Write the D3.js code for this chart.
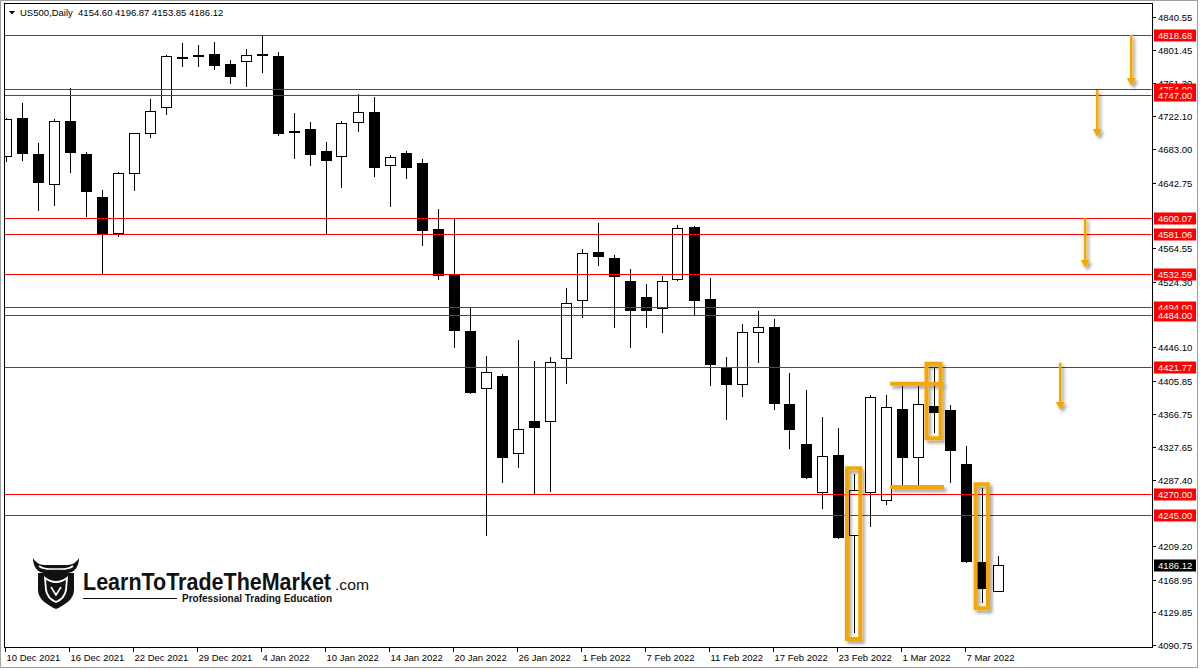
<!DOCTYPE html>
<html><head><meta charset="utf-8">
<script src="https://cdn.jsdelivr.net/npm/d3@7"></script>
<style>
html,body{margin:0;padding:0;background:#fff;}
svg{display:block;}
text{font-family:"Liberation Sans",Arial,sans-serif;}
</style></head><body>
<svg id="chart" width="1200" height="670"></svg>
<script>
// ---- data ----
const symbolTitle = "US500,Daily";
const opens  = [4673.76,4719.61,4676.99,4640.33,4716.39,4676.99,4625.65,4581.48,4652.75,4700.51,4731.55,4793.15,4793.99,4796.38,4784.44,4786.47,4796.38,4793.99,4704.21,4706.48,4680.21,4673.05,4713.64,4727.13,4663.02,4677.82,4665.88,4587.45,4532.53,4465.67,4396.78,4411.94,4318.46,4358.22,4357.38,4432.60,4501.84,4559.99,4552.82,4525.36,4506.26,4491.58,4526.20,4589.83,4503.87,4421.49,4400.84,4462.92,4470.44,4378.51,4330.76,4271.90,4317.63,4220.56,4271.90,4263.07,4372.55,4313.69,4376.13,4371.35,4306.88,4189.88,4154.60];
const highs  = [4719.97,4737.88,4690.12,4718.77,4755.43,4679.37,4634.01,4655.14,4702.50,4742.65,4795.54,4809.51,4807.48,4810.34,4789.21,4802.35,4817.27,4798.41,4725.94,4715.19,4690.96,4716.39,4748.62,4744.68,4675.44,4680.57,4670.66,4611.08,4600.22,4493.49,4435.82,4414.33,4454.92,4429.85,4434.63,4517.36,4563.57,4594.97,4556.05,4539.69,4521.78,4531.33,4592.22,4590.67,4529.30,4434.63,4474.03,4489.55,4480.00,4415.53,4395.23,4362.99,4349.86,4295.30,4389.26,4389.26,4400.00,4400.00,4421.49,4377.32,4328.37,4278.59,4196.87];
const lows   = [4667.79,4668.99,4609.29,4615.26,4654.66,4602.13,4533.72,4578.25,4633.17,4696.45,4723.91,4781.21,4781.21,4777.27,4760.92,4757.34,4774.05,4698.84,4671.38,4662.66,4581.48,4636.75,4703.61,4649.89,4614.07,4647.50,4567.51,4526.92,4445.73,4390.81,4221.28,4284.56,4302.46,4271.06,4273.81,4402.75,4481.55,4543.63,4469.61,4445.73,4469.61,4463.64,4525.00,4485.13,4400.36,4359.77,4387.23,4427.82,4371.71,4325.15,4288.97,4253.16,4216.98,4105.47,4232.03,4258.29,4281.81,4281.81,4344.25,4284.56,4188.33,4141.29,4153.85];
const closes = [4718.41,4677.34,4642.72,4716.39,4678.54,4631.98,4581.48,4653.95,4701.70,4728.32,4793.99,4791.24,4795.20,4782.41,4769.27,4795.18,4793.63,4701.22,4703.01,4676.15,4668.99,4713.64,4727.13,4660.63,4673.05,4660.63,4585.42,4531.69,4466.03,4392.01,4416.36,4314.40,4348.31,4350.22,4428.66,4498.74,4558.43,4554.37,4530.50,4489.90,4489.90,4525.00,4588.28,4501.84,4425.43,4400.84,4464.12,4470.09,4378.87,4347.83,4290.53,4316.43,4218.89,4275.48,4386.51,4374.57,4314.40,4378.16,4368.13,4322.76,4190.24,4157.29,4186.12];

const dateTickIndex = [0,4,8,12,16,20,24,28,32,36,40,44,48,52,56,60];
const dateTickLabels = ["10 Dec 2021","16 Dec 2021","22 Dec 2021","29 Dec 2021","4 Jan 2022","10 Jan 2022","14 Jan 2022","20 Jan 2022","26 Jan 2022","1 Feb 2022","7 Feb 2022","11 Feb 2022","17 Feb 2022","23 Feb 2022","1 Mar 2022","7 Mar 2022"];
const priceTicks = [4840.55,4801.45,4761.30,4722.10,4683.00,4642.75,4564.55,4524.30,4446.10,4405.85,4366.75,4327.65,4287.40,4209.20,4168.95,4129.85,4090.75];
const priceTickLabels = ["4840.55","4801.45","4761.30","4722.10","4683.00","4642.75","4564.55","4524.30","4446.10","4405.85","4366.75","4327.65","4287.40","4209.20","4168.95","4129.85","4090.75"];

const levels = [4818.68,4754.00,4747.00,4600.07,4581.06,4532.59,4494.00,4484.00,4421.77,4270.00,4245.00];
const lastPrice = 4186.12;

// orange annotations (bar index / price units)
const boxLeft   = [52.59, 57.56, 60.63];
const boxRight  = [53.42, 58.44, 61.40];
const boxTop    = [4301.75, 4426.63, 4282.65];
const boxBottom = [4097.95, 4337.56, 4134.60];
const hLineStart = [55.29, 55.29];
const hLineEnd   = [58.65, 58.65];
const hLinePrice = [4402.75, 4279.42];
const arrowX    = [70.36, 68.23, 67.48, 65.92];
const arrowFrom = [4819.06, 4753.40, 4600.58, 4427.82];
const arrowTo   = [4758.17, 4697.28, 4540.88, 4371.35];

// ---- layout ----
const W = 1200, H = 670;
const plot = {left: 4, top: 4, right: 1152, bottom: 648};
const svg = d3.select("#chart");
const x = d3.scaleLinear().domain([0, 62]).range([5.5, 5.5 + 16 * 62]);
const y = d3.scaleLinear().domain([4090.75, 4840.55]).range([645, 17]);
const ORANGE = "#F7A600";

const defs = svg.append("defs");
defs.append("clipPath").attr("id", "plotclip").append("rect")
  .attr("x", plot.left + 0.5).attr("y", plot.top + 0.5)
  .attr("width", plot.right - plot.left - 1).attr("height", plot.bottom - plot.top - 1);
const f = defs.append("filter").attr("id", "shadow").attr("x", "-50%").attr("y", "-50%").attr("width", "200%").attr("height", "200%");
f.append("feDropShadow").attr("dx", 2.5).attr("dy", 3).attr("stdDeviation", 1.6)
  .attr("flood-color", "#000").attr("flood-opacity", 0.35);

// window background & frame
svg.append("rect").attr("x", 0).attr("y", 0).attr("width", W).attr("height", H).attr("fill", "#fff");
svg.append("rect").attr("x", 0.5).attr("y", 0.5).attr("width", 1197).attr("height", 667)
  .attr("fill", "none").attr("stroke", "#a0a0a0");

const g = svg.append("g").attr("clip-path", "url(#plotclip)");

// candles
const data = opens.map((o, i) => ({i, o, h: highs[i], l: lows[i], c: closes[i]}));
const cg = g.append("g");
data.forEach(d => {
  const cx = Math.round(x(d.i)) + 0.5;
  const yo = Math.round(y(d.o)), yc = Math.round(y(d.c));
  const yh = Math.round(y(d.h)), yl = Math.round(y(d.l));
  const top = Math.min(yo, yc), bot = Math.max(yo, yc);
  const bull = d.c > d.o;
  cg.append("line").attr("x1", cx).attr("x2", cx).attr("y1", yh).attr("y2", top)
    .attr("stroke", "#000").attr("stroke-width", 1);
  cg.append("line").attr("x1", cx).attr("x2", cx).attr("y1", bot).attr("y2", yl)
    .attr("stroke", "#000").attr("stroke-width", 1);
  if (bot - top < 2) {
    cg.append("rect").attr("x", cx - 5.5).attr("y", top).attr("width", 11).attr("height", Math.max(2, bot - top))
      .attr("fill", "#000");
  } else if (bull) {
    cg.append("rect").attr("x", cx - 5).attr("y", top + 0.5).attr("width", 10).attr("height", bot - top - 1)
      .attr("fill", "#fff").attr("stroke", "#000").attr("stroke-width", 1);
  } else {
    cg.append("rect").attr("x", cx - 5.5).attr("y", top).attr("width", 11).attr("height", bot - top)
      .attr("fill", "#000");
  }
});

// horizontal levels
const ly = p => Math.floor(y(p)) + 0.5;
g.selectAll("line.level").data(levels).enter().append("line").attr("class", "level")
  .attr("x1", plot.left).attr("x2", plot.right)
  .attr("y1", d => ly(d)).attr("y2", d => ly(d))
  .attr("stroke", "#FF0000").attr("stroke-width", 1);

// orange annotations
const og = g.append("g").attr("filter", "url(#shadow)");
boxLeft.forEach((b, k) => {
  og.append("rect")
    .attr("x", x(b)).attr("y", y(boxTop[k]))
    .attr("width", x(boxRight[k]) - x(b)).attr("height", y(boxBottom[k]) - y(boxTop[k]))
    .attr("fill", "none").attr("stroke", ORANGE).attr("stroke-width", 4);
});
hLinePrice.forEach((p, k) => {
  og.append("line").attr("x1", x(hLineStart[k])).attr("x2", x(hLineEnd[k]))
    .attr("y1", y(p)).attr("y2", y(p)).attr("stroke", ORANGE).attr("stroke-width", 4);
});
arrowX.forEach((a, k) => {
  const ax = x(a), y0 = y(arrowFrom[k]), y1 = y(arrowTo[k]);
  og.append("line").attr("x1", ax).attr("x2", ax).attr("y1", y0).attr("y2", y1 - 6)
    .attr("stroke", ORANGE).attr("stroke-width", 2.6);
  og.append("path").attr("d", `M${ax - 4.5},${y1 - 8} L${ax + 4.5},${y1 - 8} L${ax},${y1} Z`)
    .attr("fill", ORANGE);
});

// plot frame
svg.append("rect").attr("x", plot.left + 0.5).attr("y", plot.top - 0.5)
  .attr("width", plot.right - plot.left).attr("height", plot.bottom - plot.top)
  .attr("fill", "none").attr("stroke", "#000").attr("stroke-width", 1);

// price axis ticks
const pa = svg.append("g");
priceTicks.forEach((p, k) => {
  const yy = Math.round(y(p)) + 0.5;
  pa.append("line").attr("x1", plot.right).attr("x2", plot.right + 4).attr("y1", yy).attr("y2", yy)
    .attr("stroke", "#000");
  pa.append("text").attr("x", plot.right + 6).attr("y", yy).attr("dy", "0.35em")
    .attr("font-size", 9.5).attr("fill", "#000").text(priceTickLabels[k]);
});
// level labels
levels.forEach(p => {
  const yy = ly(p);
  pa.append("rect").attr("x", plot.right + 2).attr("y", yy - 6).attr("width", 42).attr("height", 12)
    .attr("fill", "#FF0000");
  pa.append("text").attr("x", plot.right + 6).attr("y", yy).attr("dy", "0.35em")
    .attr("font-size", 9.5).attr("fill", "#fff").text(p.toFixed(2));
});
{
  const yy = Math.round(y(lastPrice)) + 0.5;
  pa.append("rect").attr("x", plot.right + 2).attr("y", yy - 6).attr("width", 42).attr("height", 12).attr("fill", "#000");
  pa.append("text").attr("x", plot.right + 6).attr("y", yy).attr("dy", "0.35em")
    .attr("font-size", 9.5).attr("fill", "#fff").text(lastPrice.toFixed(2));
}

// date axis
const da = svg.append("g");
dateTickIndex.forEach((idx, k) => {
  const xx = Math.round(x(idx)) - 0.5;
  da.append("line").attr("x1", xx).attr("x2", xx).attr("y1", plot.bottom).attr("y2", plot.bottom + 4)
    .attr("stroke", "#000");
  da.append("text").attr("x", xx + 1).attr("y", plot.bottom + 13)
    .attr("font-size", 9.5).attr("fill", "#000").text(dateTickLabels[k]);
});

// title
svg.append("path").attr("d", "M9,11 L15,11 L12,14.5 Z").attr("fill", "#000");
svg.append("text").attr("x", 20).attr("y", 16).attr("font-size", 9.5).attr("fill", "#000")
  .attr("xml:space", "preserve")
  .text(symbolTitle + "  " + [opens[62], highs[62], lows[62], closes[62]].map(v => v.toFixed(2)).join(" "));

// logo
const lg = svg.append("g").attr("transform", "translate(33,557)");
lg.append("path").attr("d", "M0,1 C5,9 11,8 16,8 L30,8 C35,8 41,9 46,1 C46,10 41,16 34,16 L12,16 C5,16 0,10 0,1 Z").attr("fill", "#111");
lg.append("path").attr("d", "M6,9 C10,12 14,12 17,12 L29,12 C32,12 36,12 40,9").attr("fill", "none").attr("stroke", "#fff").attr("stroke-width", 1.6);
lg.append("path").attr("d", "M5,16 L41,16 L41,33 C41,42 32,48 23,52 C14,48 5,42 5,33 Z").attr("fill", "#111");
lg.append("path").attr("d", "M12,21 C16,24 19,25 23,25 C27,25 30,24 34,21 L33,33 C32,39 28,43 23,45 C18,43 14,39 13,33 Z")
  .attr("fill", "none").attr("stroke", "#fff").attr("stroke-width", 1.8);
lg.append("path").attr("d", "M18,30 L23,38 L28,30").attr("fill", "none").attr("stroke", "#fff").attr("stroke-width", 1.6);

svg.append("text").attr("x", 83).attr("y", 589.5).attr("font-family", "'Open Sans', Lato, sans-serif")
  .attr("font-weight", 700).attr("font-size", 23).attr("fill", "#111")
  .attr("textLength", 248).attr("lengthAdjust", "spacingAndGlyphs").text("LearnToTradeTheMarket");
svg.append("text").attr("x", 335).attr("y", 589.5).attr("font-family", "'Open Sans', Lato, sans-serif")
  .attr("font-size", 15).attr("fill", "#111")
  .attr("textLength", 34).attr("lengthAdjust", "spacingAndGlyphs").text(".com");
svg.append("line").attr("x1", 83).attr("x2", 177).attr("y1", 598.5).attr("y2", 598.5).attr("stroke", "#111").attr("stroke-width", 1.2);
svg.append("text").attr("x", 182).attr("y", 601.5).attr("font-family", "'Open Sans', Lato, sans-serif")
  .attr("font-weight", 700).attr("font-size", 10.5).attr("fill", "#111")
  .attr("textLength", 150).attr("lengthAdjust", "spacingAndGlyphs").text("Professional Trading Education");
</script>
</body></html>
